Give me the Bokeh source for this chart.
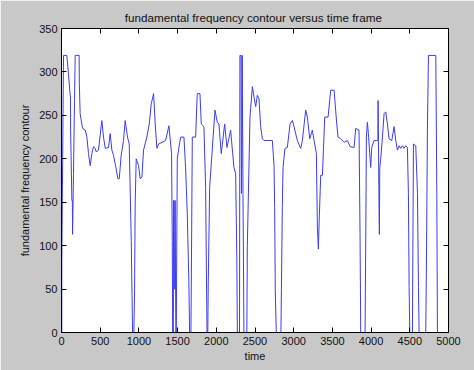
from bokeh.plotting import figure
from bokeh.models import Range1d, LinearAxis, FixedTicker
from bokeh.embed import file_html
from bokeh.resources import INLINE

# time frame and fundamental frequency values
time_frame = [
    0, 4, 4, 26, 69, 90, 112, 116, 118, 134, 140, 143, 155, 168, 177, 228, 230, 241,
    272, 306, 328, 349, 371, 392, 414, 435, 448, 478, 500, 521, 543, 565, 608, 629,
    651, 672, 703, 728, 746, 771, 801, 823, 853, 875, 901, 918, 935, 944, 952, 965,
    996, 1017, 1039, 1060, 1103, 1134, 1159, 1190, 1211, 1233, 1254, 1300, 1345,
    1388, 1422, 1431, 1436, 1445, 1448, 1455, 1458, 1465, 1468, 1474, 1478, 1483,
    1496, 1517, 1539, 1582, 1603, 1625, 1646, 1655, 1672, 1677, 1690, 1733, 1754,
    1789, 1806, 1840, 1862, 1880, 1890, 1896, 1914, 1983, 2013, 2034, 2064, 2108,
    2138, 2185, 2228, 2250, 2265, 2272, 2300, 2305, 2320, 2325, 2335, 2345, 2357,
    2395, 2401, 2435, 2466, 2487, 2509, 2530, 2552, 2573, 2595, 2616, 2724, 2746,
    2754, 2762, 2775, 2835, 2841, 2853, 2862, 2887, 2918, 2953, 2983, 3004, 3047,
    3091, 3112, 3155, 3177, 3207, 3241, 3263, 3293, 3306, 3319, 3328, 3349, 3371,
    3401, 3444, 3478, 3522, 3556, 3573, 3608, 3651, 3694, 3728, 3780, 3801, 3844,
    3857, 3866, 3922, 3931, 3939, 3952, 3965, 3982, 3995, 4008, 4038, 4069, 4088,
    4090, 4095, 4103, 4107, 4112, 4125, 4146, 4168, 4189, 4211, 4232, 4267, 4297,
    4319, 4340, 4362, 4383, 4405, 4426, 4448, 4469, 4482, 4491, 4500, 4534, 4547,
    4577, 4599, 4612, 4620, 4706, 4715, 4728, 4741, 4836, 4849, 4857,
]
f0_contour = [
    0, 0, 79, 319, 319, 298, 273, 273, 233, 152, 152, 113, 183, 267, 319, 319, 287, 252,
    235, 233, 225, 206, 192, 206, 214, 212, 208, 210, 227, 244, 225, 212, 213, 229,
    210, 204, 190, 177, 177, 204, 221, 244, 225, 217, 106, 0, 0, 48, 148, 200,
    192, 177, 179, 210, 225, 240, 263, 275, 240, 212, 217, 219, 221,
    238, 206, 106, 0, 0, 152, 152, 50, 50, 152, 50, 0, 0,
    200, 213, 225, 225, 190, 137, 56, 0, 0, 56, 225, 225, 275,
    275, 240, 237, 167, 0, 0, 56, 167, 256, 242, 240, 206, 240,
    213, 233, 190, 183, 87, 0, 0, 319, 319, 160, 319, 160, 0,
    0, 100, 248, 283, 271, 260, 273, 269, 237, 223, 221, 221, 192,
    144, 48, 0, 0, 48, 144, 190, 212, 213, 240, 244, 237, 221,
    212, 221, 256, 248, 223, 233, 221, 206, 121, 96, 125, 181, 181,
    248, 248, 279, 279, 240, 225, 223, 219, 221, 214, 213, 235, 233,
    113, 0, 0, 110, 225, 242, 229, 206, 190, 213, 221, 221, 221,
    267, 221, 140, 113, 190, 200, 225, 252, 254, 240, 223, 221, 237,
    221, 210, 215, 212, 215, 212, 215, 213, 160, 52, 0, 0, 217,
    215, 160, 52, 0, 0, 79, 238, 319, 319, 160, 0,
]
x_ticks = [0, 500, 1000, 1500, 2000, 2500, 3000, 3500, 4000, 4500, 5000]
y_ticks = [0, 50, 100, 150, 200, 250, 300, 350]

FONT = "Liberation Sans"

p = figure(width=474, height=370, output_backend="svg", toolbar_location=None,
           x_range=Range1d(0, 5000), y_range=Range1d(0, 350),
           min_border_left=61, min_border_right=26, min_border_top=28, min_border_bottom=38,
           background_fill_color="white", border_fill_color="#c8c8c8",
           outline_line_color="black", outline_line_width=1)

p.title.text = "fundamental frequency  contour versus time frame"
p.title.align = "center"
p.title.text_font = FONT
p.title.text_font_size = "11.7px"
p.title.text_font_style = "normal"
p.title.text_color = "#111111"
p.title.standoff = 9
p.title.offset = 0

p.grid.visible = False

p.line(time_frame, f0_contour, line_color="#3c3cf0", line_width=1)

p.xaxis.axis_label = "time"
p.yaxis.axis_label = "fundamental frequency contour"

p.add_layout(LinearAxis(), "above")
p.add_layout(LinearAxis(), "right")

for ax in p.axis:
    ax.major_tick_in = 5
    ax.major_tick_out = 0
    ax.minor_tick_line_color = None
    ax.axis_line_color = "black"
    ax.major_tick_line_color = "black"
    ax.major_label_text_font = FONT
    ax.major_label_text_font_size = "11px"
    ax.major_label_text_color = "#111111"
    ax.axis_label_text_font = FONT
    ax.axis_label_text_font_size = "11px"
    ax.axis_label_text_font_style = "normal"
    ax.axis_label_text_color = "#111111"

for ax in p.xaxis:
    ax.ticker = FixedTicker(ticks=x_ticks)
for ax in p.yaxis:
    ax.ticker = FixedTicker(ticks=y_ticks)

p.below[0].major_label_standoff = 4
p.below[0].axis_label_standoff = 2
p.left[0].major_label_standoff = 4
p.left[0].axis_label_standoff = 5

for ax in (p.above[-1], p.right[-1]):
    ax.major_label_text_font_size = "1px"
    ax.major_label_text_color = None
    ax.major_label_standoff = 0
    ax.axis_label = None

open("out.html", "w").write(file_html(p, INLINE))
